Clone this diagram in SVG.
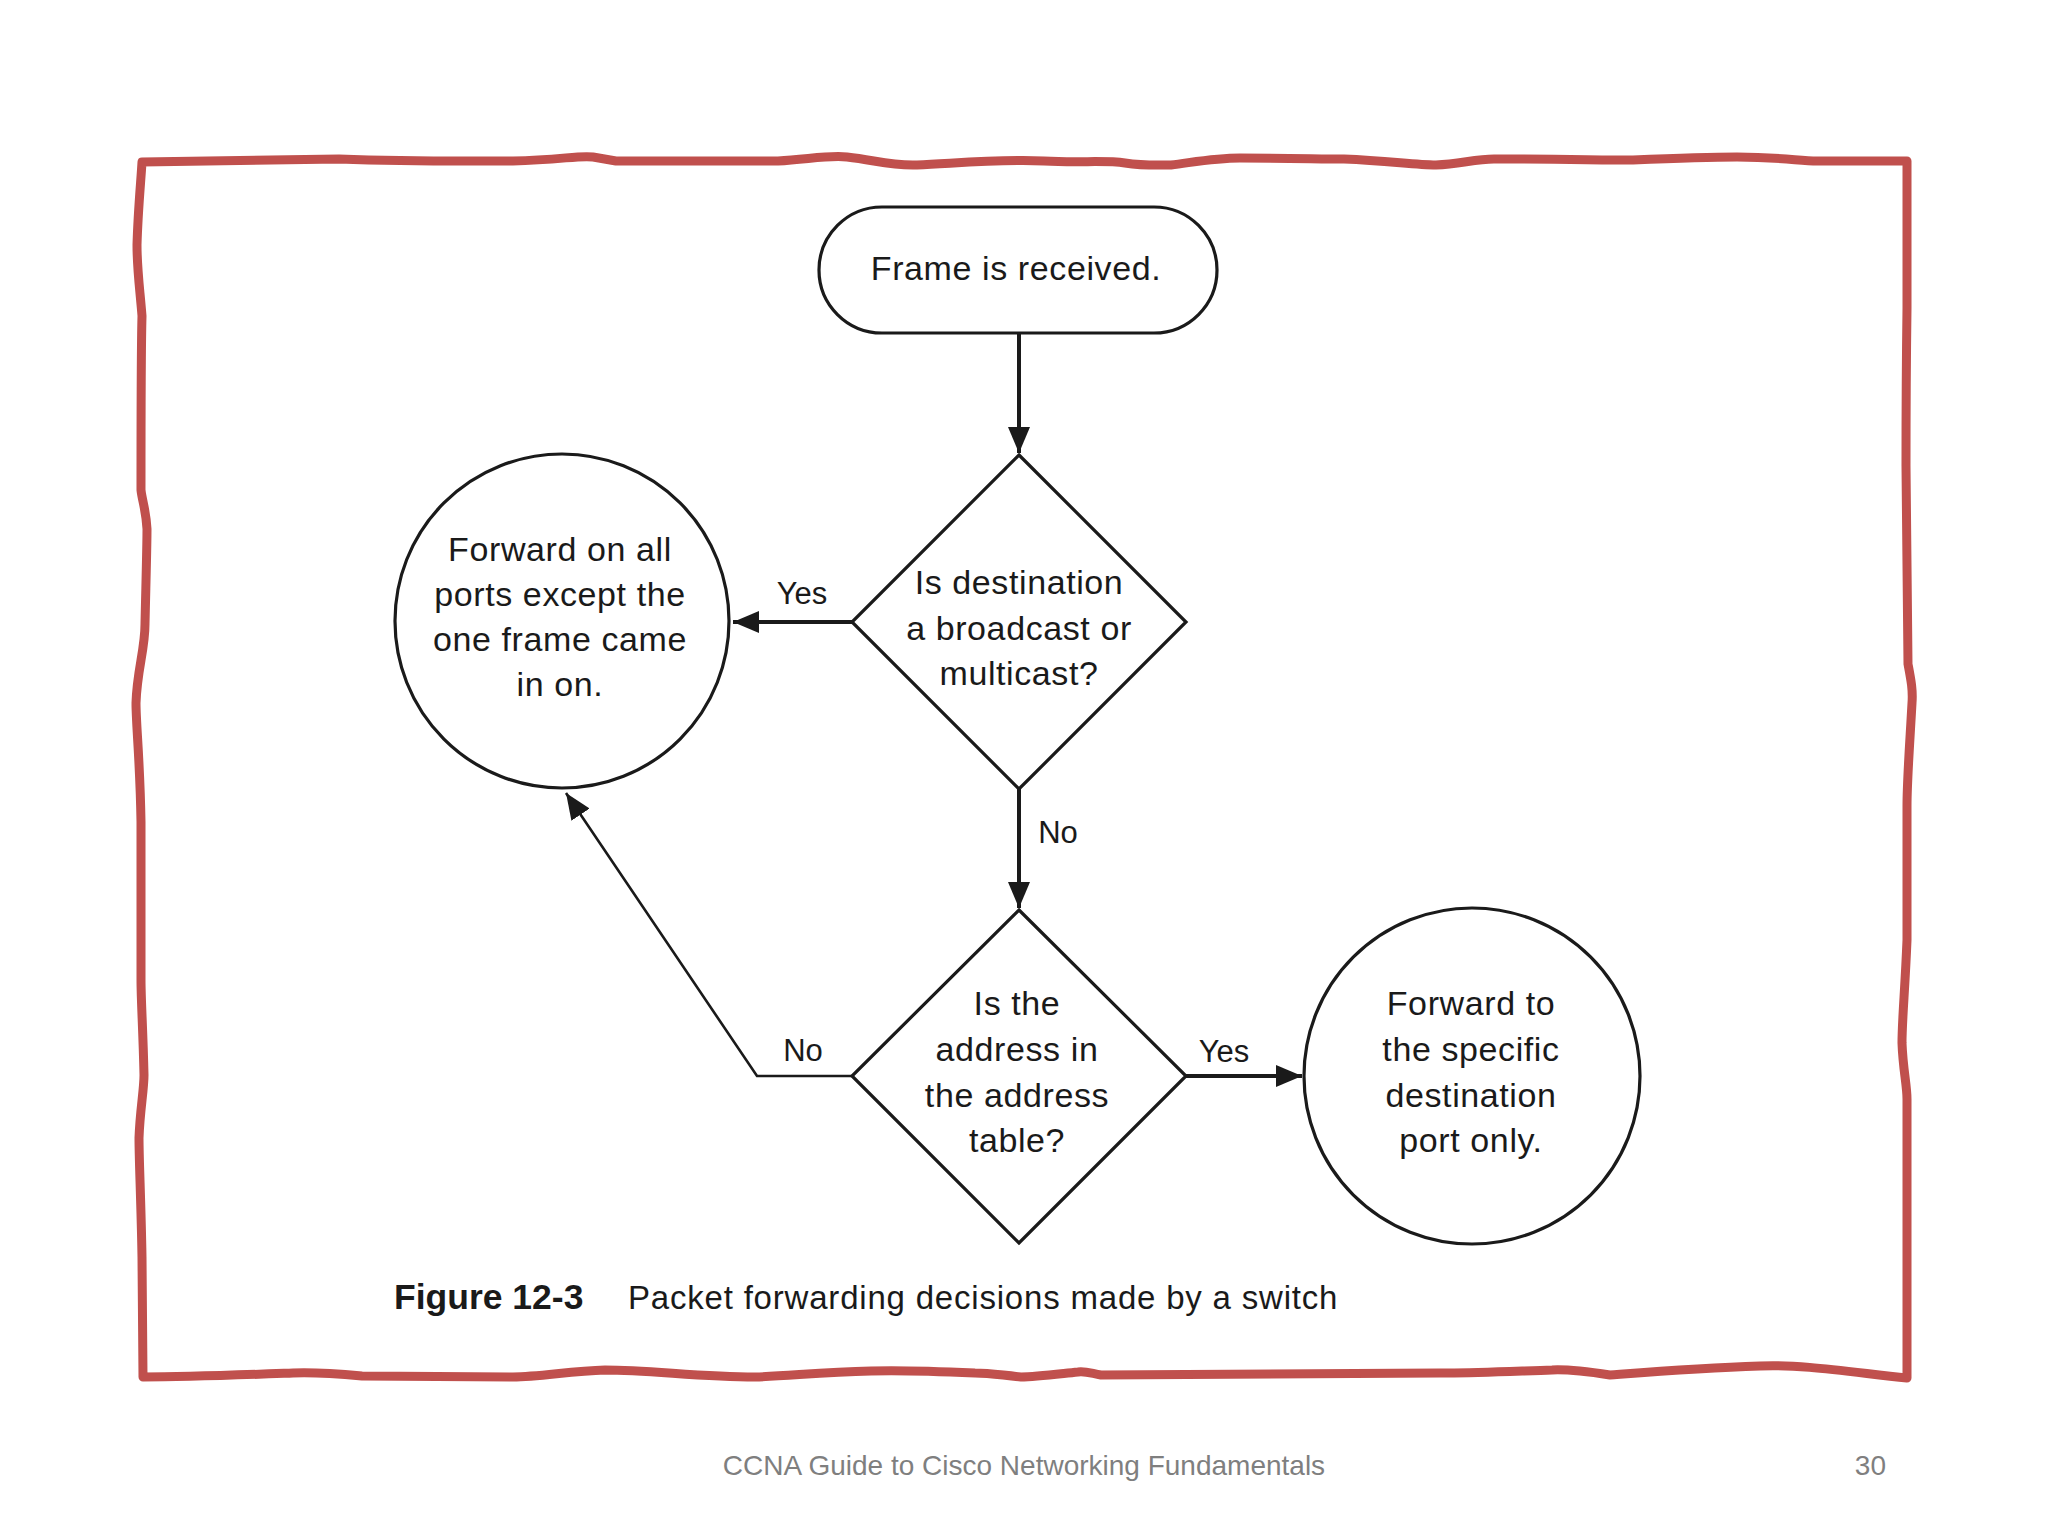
<svg xmlns="http://www.w3.org/2000/svg" width="2048" height="1536" viewBox="0 0 2048 1536">
<style>
.shape{fill:#fff;stroke:#1a1a1a;stroke-width:3.2}
.t{font-family:"Liberation Sans",Arial,sans-serif;font-size:34px;letter-spacing:0.6px;fill:#1a1a1a;text-anchor:middle}
.lbl{font-family:"Liberation Sans",Arial,sans-serif;font-size:31px;fill:#1a1a1a;text-anchor:middle}
.conn{fill:none;stroke:#1a1a1a;stroke-width:4}
.thin{fill:none;stroke:#1a1a1a;stroke-width:2.6}
.foot{font-family:"Liberation Sans",Arial,sans-serif;font-size:28px;fill:#7f7f7f}
</style>
<defs>
<marker id="ah" markerUnits="userSpaceOnUse" markerWidth="28" markerHeight="24" refX="26" refY="11" orient="auto">
<path d="M0,0 L26,11 L0,22 Z" fill="#1a1a1a"/>
</marker>
</defs>
<rect width="2048" height="1536" fill="#ffffff"/>
<g id="frame">
<path d="M142,162 L339,159 C420,162 480,161 513,161 C560,160 580,155 593,157 L616,161 L778,161 C810,159 830,155 847,157 C875,160 890,166 917,165 C960,163 1000,159 1044,161 C1080,163 1105,160 1125,163 C1145,166 1160,165 1171,165 C1195,162 1215,158 1240,158 C1290,158 1320,159 1344,159 C1390,161 1415,165 1436,165 C1460,164 1475,159 1494,159 C1560,159 1600,160 1633,160 C1680,158 1710,157 1737,157 C1780,157 1800,161 1817,161 L1907,161 L1907,308 C1906,380 1906,430 1906,466 C1907,560 1907,620 1908,664 C1911,680 1913,690 1912,703 C1910,740 1907,780 1907,806 C1907,870 1907,910 1907,940 C1905,990 1902,1020 1902,1043 C1903,1070 1907,1085 1907,1099 L1907,1378 C1850,1372 1800,1364 1760,1366 C1700,1368 1650,1372 1610,1375 C1590,1372 1570,1369 1552,1370 C1520,1371 1480,1373 1448,1373 C1300,1374 1150,1375 1101,1375 C1090,1373 1085,1371 1078,1372 C1050,1375 1035,1377 1021,1377 C1000,1375 990,1373 975,1373 C930,1371 900,1370 871,1371 C820,1372 790,1376 755,1377 C700,1377 650,1370 605,1370 C570,1371 540,1377 513,1377 C460,1377 400,1376 362,1376 C340,1374 315,1372 293,1373 C240,1375 190,1377 143,1377 L142,1257 C141,1200 139,1160 139,1138 C140,1110 144,1090 144,1075 C143,1030 141,1000 141,980 C141,900 141,850 141,822 C140,760 136,725 136,703 C137,670 145,650 145,624 C146,580 147,545 147,529 C146,510 142,500 141,490 C141,420 141,350 142,316 C140,290 137,270 137,245 C138,210 141,180 142,162 Z" fill="none" stroke="#c0504d" stroke-width="9" stroke-linejoin="round"/>
</g>
<g id="connectors">
<path class="conn" d="M1019,334 L1019,453" marker-end="url(#ah)"/>
<path class="conn" d="M852,622 L733,622" marker-end="url(#ah)"/>
<path class="conn" d="M1019,789 L1019,908" marker-end="url(#ah)"/>
<path class="conn" d="M1186,1076 L1302,1076" marker-end="url(#ah)"/>
<path class="thin" d="M852,1076 L757,1076 L566,793" marker-end="url(#ah)"/>
<text class="lbl" x="802" y="604">Yes</text>
<text class="lbl" x="1058" y="843">No</text>
<text class="lbl" x="1224" y="1062">Yes</text>
<text class="lbl" x="803" y="1061">No</text>
</g>
<g id="start">
<rect class="shape" x="819" y="207" width="398" height="126" rx="63" ry="63"/>
<text class="t" x="1016" y="280">Frame is received.</text>
</g>
<g id="decision1">
<polygon class="shape" points="1019,455 1186,622 1019,789 852,622"/>
<text class="t" x="1019" y="594">Is destination</text>
<text class="t" x="1019" y="640">a broadcast or</text>
<text class="t" x="1019" y="685">multicast?</text>
</g>
<g id="flood">
<circle class="shape" cx="562" cy="621" r="167"/>
<text class="t" x="560" y="561">Forward on all</text>
<text class="t" x="560" y="606">ports except the</text>
<text class="t" x="560" y="651">one frame came</text>
<text class="t" x="560" y="696">in on.</text>
</g>
<g id="decision2">
<polygon class="shape" points="1019,910 1186,1076 1019,1243 852,1076"/>
<text class="t" x="1017" y="1015">Is the</text>
<text class="t" x="1017" y="1061">address in</text>
<text class="t" x="1017" y="1107">the address</text>
<text class="t" x="1017" y="1152">table?</text>
</g>
<g id="forward">
<circle class="shape" cx="1472" cy="1076" r="168"/>
<text class="t" x="1471" y="1015">Forward to</text>
<text class="t" x="1471" y="1061">the specific</text>
<text class="t" x="1471" y="1107">destination</text>
<text class="t" x="1471" y="1152">port only.</text>
</g>
<g id="caption">
<text x="394" y="1309" font-family="Liberation Sans, Arial, sans-serif" font-size="35.5" font-weight="bold" fill="#1a1a1a">Figure 12-3</text>
<text x="628" y="1309" font-family="Liberation Sans, Arial, sans-serif" font-size="33" letter-spacing="0.8" fill="#1a1a1a">Packet forwarding decisions made by a switch</text>
</g>
<g id="footer">
<text class="foot" x="1024" y="1475" text-anchor="middle">CCNA Guide to Cisco Networking Fundamentals</text>
<text class="foot" x="1886" y="1475" text-anchor="end">30</text>
</g>
</svg>
